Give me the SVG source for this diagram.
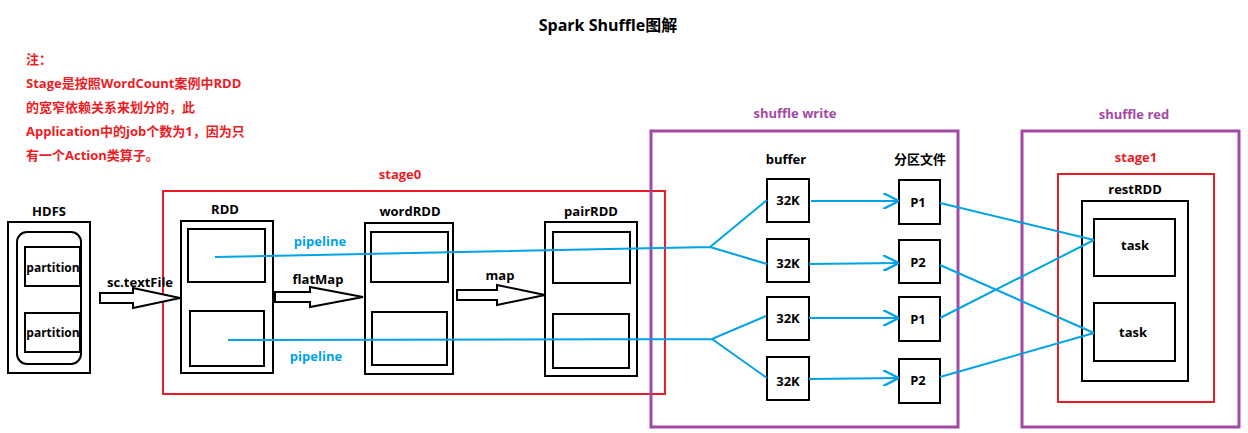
<svg xmlns="http://www.w3.org/2000/svg" width="1248" height="433" viewBox="0 0 1248 433">
<defs>
<style>
text{font-family:"Open Sans","Noto Sans CJK SC",sans-serif;font-weight:bold;font-size:13px}
.k{fill:none;stroke:#000;stroke-width:2}
.r{fill:none;stroke:#ed1c24;stroke-width:2}
.p{fill:none;stroke:#a349a4;stroke-width:3}
.b{fill:none;stroke:#00a2e8;stroke-width:2}
.h{fill:#fff;stroke:#000;stroke-width:2}
.red{fill:#ed1c24}.blu{fill:#00a2e8}.pur{fill:#a349a4}
</style>
<marker id="a" viewBox="0 0 10 10" refX="10" refY="5" markerWidth="8" markerHeight="8" orient="auto"><path d="M0,0L10,5L0,10" fill="none" stroke="#00a2e8" stroke-width="1.5"/></marker>
</defs>
<rect width="1248" height="433" fill="#fff"/>
<text x="608" y="31" text-anchor="middle" style="font-size:16px">Spark Shuffle图解</text>
<g class="red">
<text x="26" y="64">注：</text>
<text x="26" y="88">Stage是按照WordCount案例中RDD</text>
<text x="26" y="112">的宽窄依赖关系来划分的，此</text>
<text x="26" y="136">Application中的job个数为1，因为只</text>
<text x="26" y="160">有一个Action类算子。</text>
</g>
<g id="stage0"><rect class="r" x="163" y="191" width="502" height="203"/><text class="red" x="400" y="179" text-anchor="middle">stage0</text></g>
<g id="hdfs"><text x="49" y="216" text-anchor="middle">HDFS</text><rect class="k" x="8" y="222" width="82" height="151"/><rect class="k" x="17" y="232" width="64" height="132" rx="10"/><rect class="k" x="25" y="247" width="55" height="39"/><text x="53" y="272" text-anchor="middle" style="font-size:12px">partition</text><rect class="k" x="25" y="313" width="55" height="39"/><text x="53" y="337" text-anchor="middle" style="font-size:12px">partition</text></g>
<g id="rdd"><text x="225" y="214" text-anchor="middle">RDD</text><rect class="k" x="181" y="221" width="92" height="152"/><rect class="k" x="188" y="229" width="77" height="53"/><rect class="k" x="190" y="311" width="74" height="55"/></g>
<g id="wordrdd"><text x="410" y="216" text-anchor="middle">wordRDD</text><rect class="k" x="365" y="223" width="88" height="151"/><rect class="k" x="371" y="232" width="77" height="50"/><rect class="k" x="372" y="312" width="75" height="53"/></g>
<g id="pairrdd"><text x="591" y="216" text-anchor="middle">pairRDD</text><rect class="k" x="545" y="222" width="92" height="154"/><rect class="k" x="553" y="232" width="77" height="51"/><rect class="k" x="553" y="314" width="76" height="54"/></g>
<g id="shufflewrite"><rect class="p" x="651" y="131" width="307" height="296"/><text class="pur" x="795" y="118" text-anchor="middle">shuffle write</text><text x="786" y="164" text-anchor="middle">buffer</text><text x="920" y="164" text-anchor="middle">分区文件</text></g>
<g id="buffers">
<rect class="k" x="767" y="179" width="42" height="43"/><text x="788" y="205" text-anchor="middle">32K</text>
<rect class="k" x="767" y="239" width="42" height="43"/><text x="788" y="268" text-anchor="middle">32K</text>
<rect class="k" x="767" y="297" width="42" height="43"/><text x="788" y="323" text-anchor="middle">32K</text>
<rect class="k" x="767" y="357" width="42" height="43"/><text x="788" y="386" text-anchor="middle">32K</text>
</g>
<g id="partfiles">
<rect class="k" x="899" y="180" width="41" height="44"/><text x="918" y="207" text-anchor="middle">P1</text>
<rect class="k" x="899" y="240" width="41" height="43"/><text x="918" y="267" text-anchor="middle">P2</text>
<rect class="k" x="899" y="297" width="41" height="44"/><text x="918" y="324" text-anchor="middle">P1</text>
<rect class="k" x="899" y="359" width="41" height="44"/><text x="918" y="385" text-anchor="middle">P2</text>
</g>
<g id="shufflered"><rect class="p" x="1022" y="131" width="217" height="296"/><text class="pur" x="1134" y="119" text-anchor="middle">shuffle red</text>
<rect class="r" x="1058" y="174" width="156" height="228"/><text class="red" x="1136" y="162" text-anchor="middle">stage1</text>
<text x="1135" y="194" text-anchor="middle">restRDD</text><rect class="k" x="1082" y="201" width="106" height="180"/>
<rect class="k" x="1094" y="219" width="81" height="57"/><text x="1135" y="250" text-anchor="middle">task</text>
<rect class="k" x="1094" y="303" width="81" height="58"/><text x="1133" y="337" text-anchor="middle">task</text></g>
<g id="connectors">
<path class="h" d="M100,293H133V288L180,298L133,308V303H100Z" stroke-width="1.5"/>
<path class="h" d="M275,292H310V287L363,297L310,307V302H275Z" stroke-width="1.5"/>
<path class="h" d="M457,290H497V285L545,295L497,305V300H457Z" stroke-width="1.5"/>
<text x="140" y="287" text-anchor="middle">sc.textFile</text>
<text x="318" y="284" text-anchor="middle">flatMap</text>
<text x="500" y="280" text-anchor="middle">map</text>
<text class="blu" x="320" y="246" text-anchor="middle">pipeline</text>
<text class="blu" x="316" y="361" text-anchor="middle">pipeline</text>
<path class="b" d="M215,257L710,247L767,200M710,247L767,264"/>
<path class="b" d="M228,340L712,339L766,316M712,339L767,378"/>
<path class="b" marker-end="url(#a)" d="M811,201H899"/>
<path class="b" marker-end="url(#a)" d="M809,264L899,263"/>
<path class="b" marker-end="url(#a)" d="M809,318H899"/>
<path class="b" marker-end="url(#a)" d="M809,379L899,378"/>
<path class="b" d="M940,203L1094,240M940,265L1094,333M940,318L1094,240M940,377L1094,333"/>
</g>
</svg>
